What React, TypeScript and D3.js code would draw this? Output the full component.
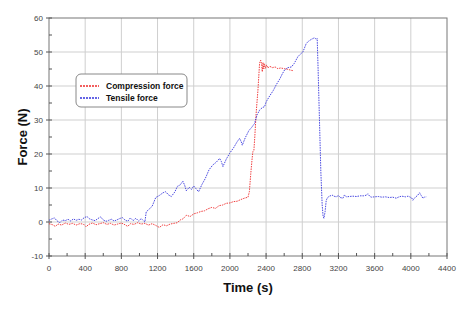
import * as d3 from 'd3'

// Compression force series (time in s, force in N)
const compTime = [
  0, 40, 70, 100, 140, 180, 220, 260, 300, 340, 380, 410, 440, 480, 520, 560, 600, 640, 680, 720,
  760, 800, 840, 870, 900, 940, 980, 1020, 1060, 1100, 1140, 1180, 1220, 1260, 1300, 1340, 1380,
  1420, 1450, 1480, 1520, 1560, 1600, 1640, 1680, 1720, 1760, 1800, 1840, 1880, 1920, 1960, 2000,
  2040, 2080, 2120, 2160, 2200, 2215, 2230, 2245, 2254, 2265, 2275, 2290, 2310, 2328, 2340, 2350,
  2358, 2366, 2374, 2382, 2392, 2405, 2420, 2440, 2470, 2500, 2530, 2560, 2600, 2640, 2680, 2700,
]
const compForce = [
  -0.5, -0.8, -1.3, -0.6, -0.9, -0.3, -0.7, -0.4, -0.9, -0.5, -0.6, -1.4, -0.7, -0.3, -0.8, -0.5,
  -0.2, -0.7, -0.4, -0.9, -0.6, -0.3, -0.8, -1.3, -0.5, -0.7, -0.2, -0.6, -0.4, -0.9, -0.5, -1.0,
  -1.6, -0.8, -1.1, -0.6, -0.4, -0.2, 0.6, 0.9, 2.0, 1.6, 2.4, 2.7, 3.1, 3.3, 3.9, 4.3, 4.0, 4.8,
  5.0, 5.5, 5.6, 6.0, 6.1, 6.6, 7.0, 7.3, 8.9, 14, 18.5, 20.7, 21, 25, 32, 38.8, 46.7, 47.6, 46.5,
  44.2, 46.9, 45.0, 46.5, 45.2, 46.2, 45.3, 45.8, 45.4, 45.6, 45.1, 45.3, 45.1, 44.9, 44.6, 44.5,
]

// Tensile force series
const tensTime = [
  0, 30, 60, 90, 120, 150, 180, 210, 240, 270, 300, 330, 360, 390, 420, 450, 480, 510, 540, 570,
  600, 630, 660, 690, 720, 750, 780, 810, 840, 870, 900, 930, 960, 990, 1020, 1050, 1060, 1075,
  1100, 1140, 1180, 1220, 1260, 1290, 1320, 1352, 1390, 1420, 1450, 1480, 1500, 1518, 1550, 1575,
  1600, 1625, 1654, 1690, 1728, 1770, 1812, 1850, 1886, 1905, 1923, 1960, 1997, 2040, 2080, 2107,
  2125, 2137, 2170, 2210, 2240, 2273, 2300, 2328, 2360, 2383, 2402, 2440, 2480, 2513, 2550, 2580,
  2604, 2640, 2680, 2710, 2751, 2780, 2807, 2844, 2870, 2899, 2936, 2955, 2965, 2975, 2990, 3005,
  3020, 3030, 3039, 3052, 3065, 3080, 3101, 3130, 3150, 3176, 3200, 3220, 3250, 3265, 3290, 3320,
  3360, 3400, 3440, 3480, 3510, 3525, 3545, 3560, 3600, 3640, 3680, 3720, 3760, 3800, 3839, 3870,
  3900, 3940, 3970, 3987, 4010, 4022, 4050, 4075, 4096, 4115, 4133, 4150, 4170,
]
const tensForce = [
  0.5, 0.9, 1.2, 0.3, -0.2, 0.6, 0.4, 0.8, 0.3, 0.9, 0.5, 0.8, 0.6, 1.3, 1.6, 0.9, 0.6, 0.4, 1.0,
  1.5, 0.6, 0.2, 0.5, 0.8, 0.3, 0.6, 1.0, 1.3, 0.6, 0.2, 1.2, 0.4, 1.1, 0.3, 1.0, 0.2, 0.0, 3.0,
  3.6, 4.6, 7.2, 7.8, 8.6, 8.9, 8.0, 7.5, 8.8, 10.5, 10.9, 12.0, 10.8, 9.2, 10.2, 9.6, 10.6, 9.8,
  8.9, 11.0, 12.8, 15.4, 16.8, 17.6, 18.7, 17.8, 16.3, 18.5, 20.2, 21.8, 23.6, 24.6, 23.6, 22.6,
  24.8, 26.9, 27.8, 29.0, 31.5, 32.9, 33.7, 33.9, 35.4, 37.1, 38.7, 40.4, 42.0, 43.6, 44.7, 45.4,
  45.6, 46.6, 48.6, 49.4, 50.0, 52.5, 53.2, 53.7, 54.2, 53.7, 54.0, 45, 30, 15, 5, 1.8, 1.1, 3.0,
  6.4, 7.2, 7.6, 7.9, 7.6, 7.4, 7.8, 7.2, 7.0, 7.9, 7.4, 7.5, 7.6, 7.5, 7.7, 7.7, 7.9, 8.3, 7.6,
  7.3, 7.4, 7.5, 7.3, 7.4, 7.2, 7.3, 7.0, 7.4, 7.6, 7.4, 7.6, 7.4, 7.1, 6.4, 7.3, 7.8, 8.6, 7.8,
  7.0, 7.3, 7.4,
]

const xTicks = d3.range(0, 4401, 400)
const xMinor = d3.range(200, 4400, 400)
const yTicks = d3.range(-10, 61, 10)
const yMinor = d3.range(-5, 60, 10)

const seriesNames = ['Compression force', 'Tensile force']
const seriesColors = ['#ee2a2a', '#3333dd']

const W = 474
const H = 310
const m = { left: 49, right: 27, top: 18, bottom: 54 }

export default function App() {
  const x = d3.scaleLinear().domain([0, 4400]).range([m.left, W - m.right])
  const y = d3.scaleLinear().domain([-10, 60]).range([H - m.bottom, m.top])
  const line = d3.line<[number, number]>()
    .x(d => x(d[0]))
    .y(d => y(d[1]))

  const comp = compTime.map((t, i) => [t, compForce[i]] as [number, number])
  const tens = tensTime.map((t, i) => [t, tensForce[i]] as [number, number])

  const font = '"Liberation Sans", Arial, sans-serif'
  const x0 = x(0), x1 = x(4400), y0 = y(-10), y1 = y(60)

  return (
    <svg width={W} height={H} style={{ position: 'absolute', left: 0, top: 0, background: '#fff' }}
      fontFamily={font}>
      {/* grid */}
      {xTicks.slice(1, -1).map(t => (
        <line key={'gx' + t} x1={x(t)} x2={x(t)} y1={y0} y2={y1} stroke="#cfcfcf" strokeWidth={1} />
      ))}
      {yTicks.slice(1, -1).map(t => (
        <line key={'gy' + t} x1={x0} x2={x1} y1={y(t)} y2={y(t)} stroke="#cfcfcf" strokeWidth={1} />
      ))}
      <rect x={x0} y={y1} width={x1 - x0} height={y0 - y1} fill="none" stroke="#777" strokeWidth={1} />

      {/* ticks */}
      {xTicks.map(t => (
        <line key={'tx' + t} x1={x(t)} x2={x(t)} y1={y0 - 3} y2={y0 + 3} stroke="#555" />
      ))}
      {xMinor.map(t => (
        <line key={'mx' + t} x1={x(t)} x2={x(t)} y1={y0 - 3} y2={y0} stroke="#555" />
      ))}
      {yTicks.map(t => (
        <line key={'ty' + t} x1={x0 - 3} x2={x0 + 3} y1={y(t)} y2={y(t)} stroke="#555" />
      ))}
      {yMinor.map(t => (
        <line key={'my' + t} x1={x0} x2={x0 + 3} y1={y(t)} y2={y(t)} stroke="#555" />
      ))}
      {xTicks.map(t => (
        <text key={'lx' + t} x={x(t)} y={y0 + 15} textAnchor="middle" fontSize={8} fill="#444">{t}</text>
      ))}
      {yTicks.map(t => (
        <text key={'ly' + t} x={x0 - 6} y={y(t) + 3} textAnchor="end" fontSize={8} fill="#444">{t}</text>
      ))}

      {/* series */}
      <path d={line(comp) ?? ''} fill="none" stroke={seriesColors[0]} strokeWidth={0.9} strokeDasharray="1.5 1" />
      <path d={line(tens) ?? ''} fill="none" stroke={seriesColors[1]} strokeWidth={0.9} strokeDasharray="1.5 1" />

      {/* axis titles */}
      <text x={(x0 + x1) / 2} y={292} textAnchor="middle" fontSize={13} fontWeight="bold" fill="#111">Time (s)</text>
      <text transform={`translate(27,${(y0 + y1) / 2}) rotate(-90)`} textAnchor="middle" fontSize={13}
        fontWeight="bold" fill="#111">Force (N)</text>

      {/* legend */}
      <rect x={76} y={74} width={111} height={33} rx={5} fill="#fff" stroke="#888" />
      {seriesNames.map((n, i) => (
        <g key={n}>
          <line x1={80} x2={99} y1={86 + i * 12} y2={86 + i * 12} stroke={seriesColors[i]} strokeWidth={1.5}
            strokeDasharray="2 1" />
          <text x={106} y={89 + i * 12} fontSize={8.5} fontWeight="bold" fill="#111">{n}</text>
        </g>
      ))}
    </svg>
  )
}
